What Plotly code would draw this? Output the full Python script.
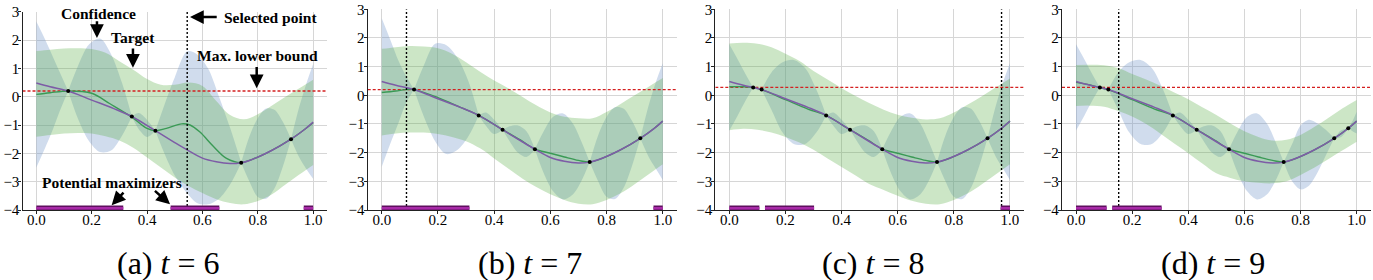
import plotly.graph_objects as go

# ---------------- data ----------------
# true function (purple), identical in all panels
true_x = [0, 0.05, 0.115, 0.2, 0.28, 0.345, 0.43, 0.5, 0.545, 0.6, 0.65, 0.7, 0.74, 0.77, 0.85, 0.92, 0.97, 1.0]
true_y = [0.48, 0.35, 0.2, -0.12, -0.42, -0.7, -1.2, -1.62, -1.88, -2.17, -2.3, -2.36, -2.33, -2.25, -1.9, -1.5, -1.15, -0.9]

# target band (green), common grid
tgt_x = [0, 0.05, 0.1, 0.15, 0.2, 0.25, 0.3, 0.35, 0.4, 0.45, 0.5, 0.55, 0.6, 0.65, 0.7, 0.75, 0.8, 0.85, 0.9, 0.95, 1.0]
tgt_up_a = [1.61, 1.66, 1.7, 1.71, 1.68, 1.55, 1.25, 0.95, 0.62, 0.42, 0.42, 0.5, 0.38, -0.15, -0.65, -0.8, -0.62, -0.32, 0.0, 0.3, 0.6]
tgt_lo_a = [-1.41, -1.35, -1.3, -1.28, -1.3, -1.4, -1.55, -1.8, -2.15, -2.5, -2.85, -3.15, -3.4, -3.62, -3.75, -3.8, -3.68, -3.45, -3.1, -2.75, -2.41]
tgt_up_b = [1.62, 1.68, 1.72, 1.7, 1.64, 1.45, 1.15, 0.82, 0.52, 0.25, -0.05, -0.35, -0.6, -0.75, -0.8, -0.8, -0.58, -0.3, 0.0, 0.3, 0.6]
tgt_lo_b = [-1.4, -1.33, -1.3, -1.3, -1.35, -1.45, -1.6, -1.85, -2.2, -2.55, -2.9, -3.2, -3.45, -3.65, -3.78, -3.8, -3.65, -3.42, -3.1, -2.75, -2.4]
tgt_up_c = [1.81, 1.83, 1.8, 1.68, 1.45, 1.2, 0.85, 0.55, 0.25, -0.02, -0.28, -0.5, -0.68, -0.78, -0.84, -0.8, -0.6, -0.32, -0.03, 0.28, 0.59]
tgt_lo_c = [-1.22, -1.17, -1.2, -1.3, -1.45, -1.65, -1.9, -2.2, -2.5, -2.8, -3.1, -3.3, -3.5, -3.68, -3.78, -3.8, -3.65, -3.42, -3.1, -2.75, -2.4]
tgt_up_d = [1.06, 1.07, 1.05, 0.95, 0.74, 0.55, 0.33, 0.1, -0.14, -0.42, -0.69, -0.98, -1.25, -1.45, -1.58, -1.55, -1.38, -1.1, -0.78, -0.45, -0.16]
tgt_lo_d = [-0.37, -0.36, -0.4, -0.55, -0.74, -1.0, -1.33, -1.68, -2.02, -2.38, -2.72, -2.88, -3.0, -3.05, -3.07, -3.0, -2.78, -2.52, -2.22, -1.92, -1.62]

# confidence band (blue); where upper == lower the band pinches at an observation
conf_x_a = [0, 0.03, 0.06, 0.085, 0.115, 0.15, 0.19, 0.23, 0.27, 0.31, 0.345, 0.37, 0.4, 0.43, 0.46, 0.5, 0.545, 0.58, 0.62, 0.66, 0.7, 0.74, 0.77, 0.8, 0.83, 0.86, 0.89, 0.92, 0.95, 0.975, 1.0]
conf_up_a = [2.65, 2.05, 1.4, 0.85, 0.2, 1.07, 1.84, 2.05, 1.5, 0.47, -0.7, -0.58, -0.82, -1.2, -0.36, 0.68, 1.6, 1.5, 1.0, 0.0, -1.1, -2.33, -1.4, -0.76, -0.42, -0.46, -0.88, -1.5, -0.35, 0.45, 1.15]
conf_lo_a = [-2.5, -1.85, -1.15, -0.5, 0.2, -0.77, -1.56, -1.95, -1.9, -1.37, -0.7, -1.15, -1.42, -1.2, -1.94, -2.78, -3.41, -3.75, -3.8, -3.6, -3.1, -2.33, -3.0, -3.54, -3.6, -3.24, -2.48, -1.5, -2.15, -2.55, -2.9]

conf_x_b = [0, 0.03, 0.06, 0.085, 0.115, 0.15, 0.19, 0.23, 0.27, 0.31, 0.345, 0.37, 0.4, 0.43, 0.455, 0.485, 0.515, 0.545, 0.575, 0.61, 0.645, 0.68, 0.71, 0.74, 0.77, 0.8, 0.83, 0.86, 0.89, 0.92, 0.95, 0.975, 1.0]
conf_up_b = [2.69, 1.95, 1.2, 0.7, 0.2, 1.05, 1.8, 1.75, 1.3, 0.45, -0.7, -0.6, -0.85, -1.2, -1.08, -1.05, -1.25, -1.88, -1.28, -0.75, -0.63, -0.98, -1.6, -2.33, -1.4, -0.76, -0.42, -0.46, -0.88, -1.5, -0.35, 0.45, 1.12]
conf_lo_b = [-2.49, -1.7, -0.95, -0.3, 0.2, -0.75, -1.6, -2.05, -1.9, -1.4, -0.7, -1.05, -1.35, -1.2, -1.6, -2.0, -2.15, -1.88, -2.68, -3.35, -3.63, -3.46, -3.0, -2.33, -3.0, -3.54, -3.62, -3.24, -2.48, -1.5, -2.15, -2.55, -2.95]

conf_x_c = [0, 0.03, 0.06, 0.085, 0.1, 0.115, 0.15, 0.19, 0.23, 0.27, 0.31, 0.345, 0.37, 0.4, 0.43, 0.455, 0.485, 0.515, 0.545, 0.575, 0.61, 0.645, 0.68, 0.71, 0.74, 0.77, 0.8, 0.83, 0.86, 0.89, 0.92, 0.95, 0.975, 1.0]
conf_up_c = [1.78, 1.25, 0.7, 0.27, 0.3, 0.2, 0.8, 1.15, 1.23, 0.95, 0.2, -0.7, -0.6, -0.85, -1.2, -1.08, -1.05, -1.25, -1.88, -1.28, -0.75, -0.63, -0.98, -1.6, -2.33, -1.4, -0.76, -0.42, -0.46, -0.88, -1.5, -0.35, 0.45, 1.12]
conf_lo_c = [-1.23, -0.7, -0.15, 0.27, 0.18, 0.2, -0.5, -1.3, -1.7, -1.7, -1.3, -0.7, -1.05, -1.35, -1.2, -1.6, -2.0, -2.15, -1.88, -2.68, -3.35, -3.63, -3.46, -3.0, -2.33, -3.0, -3.54, -3.62, -3.24, -2.48, -1.5, -2.15, -2.55, -2.95]

conf_x_d = [0, 0.03, 0.06, 0.085, 0.1, 0.115, 0.15, 0.19, 0.23, 0.27, 0.31, 0.345, 0.37, 0.4, 0.43, 0.455, 0.485, 0.515, 0.545, 0.575, 0.61, 0.645, 0.68, 0.71, 0.74, 0.77, 0.8, 0.83, 0.86, 0.89, 0.92, 0.945, 0.97, 0.985, 1.0]
conf_up_d = [1.78, 1.25, 0.7, 0.27, 0.3, 0.2, 0.8, 1.15, 1.23, 0.95, 0.2, -0.7, -0.6, -0.85, -1.2, -1.08, -1.05, -1.25, -1.88, -1.28, -0.75, -0.63, -0.98, -1.6, -2.33, -1.7, -1.05, -0.85, -0.98, -1.2, -1.5, -1.22, -1.15, -0.9, -0.57]
conf_lo_d = [-1.23, -0.7, -0.15, 0.27, 0.18, 0.2, -0.5, -1.3, -1.7, -1.7, -1.3, -0.7, -1.05, -1.35, -1.2, -1.6, -2.0, -2.15, -1.88, -2.68, -3.35, -3.63, -3.46, -3.0, -2.33, -3.0, -3.28, -3.15, -2.7, -2.1, -1.5, -1.45, -1.15, -1.25, -1.33]

# posterior mean (green line)
mean_x_a = [0, 0.05, 0.115, 0.2, 0.266, 0.345, 0.4, 0.43, 0.47, 0.525, 0.555, 0.59, 0.64, 0.687, 0.74, 0.78, 0.83, 0.92, 1.0]
mean_y_a = [0.08, 0.14, 0.2, 0.12, -0.25, -0.72, -1.12, -1.2, -1.12, -0.96, -1.0, -1.24, -1.76, -2.18, -2.33, -2.21, -2.0, -1.5, -0.92]
mean_x_b = [0, 0.05, 0.085, 0.115, 0.2, 0.28, 0.345, 0.43, 0.5, 0.545, 0.6, 0.65, 0.7, 0.74, 0.77, 0.85, 0.92, 0.97, 1.0]
mean_y_b = [0.1, 0.15, 0.2, 0.2, -0.08, -0.42, -0.7, -1.2, -1.6, -1.88, -2.02, -2.15, -2.27, -2.33, -2.25, -1.9, -1.5, -1.15, -0.9]
mean_x_c = mean_x_b
mean_y_c = [0.3, 0.3, 0.27, 0.2, -0.15, -0.48, -0.7, -1.2, -1.6, -1.88, -2.02, -2.15, -2.27, -2.33, -2.25, -1.9, -1.5, -1.15, -0.9]
mean_x_d = mean_x_b
mean_y_d = [0.45, 0.36, 0.27, 0.2, -0.15, -0.48, -0.7, -1.2, -1.6, -1.88, -2.02, -2.15, -2.27, -2.33, -2.25, -1.9, -1.5, -1.15, -0.9]

# observations
obs_x_a = [0.115, 0.345, 0.43, 0.74, 0.92]
obs_y_a = [0.2, -0.7, -1.2, -2.33, -1.5]
obs_x_b = [0.115, 0.345, 0.43, 0.545, 0.74, 0.92]
obs_y_b = [0.2, -0.7, -1.2, -1.88, -2.33, -1.5]
obs_x_c = [0.085, 0.115, 0.345, 0.43, 0.545, 0.74, 0.92]
obs_y_c = [0.27, 0.2, -0.7, -1.2, -1.88, -2.33, -1.5]
obs_x_d = [0.085, 0.115, 0.345, 0.43, 0.545, 0.74, 0.92, 0.97]
obs_y_d = [0.27, 0.2, -0.7, -1.2, -1.88, -2.33, -1.5, -1.15]

max_lower_bound = [0.2, 0.2, 0.28, 0.28]
selected_point = [0.545, 0.088, 0.97, 0.152]
maximizer_intervals = [
    [(0, 0.314), (0.485, 0.661), (0.966, 1.0)],
    [(0, 0.312), (0.967, 1.0)],
    [(0, 0.107), (0.127, 0.302), (0.967, 1.0)],
    [(0, 0.109), (0.129, 0.305)],
]
captions = ["(a) <i>t</i> = 6", "(b) <i>t</i> = 7", "(c) <i>t</i> = 8", "(d) <i>t</i> = 9"]
x_ticks = [0.0, 0.2, 0.4, 0.6, 0.8, 1.0]
y_ticks = [-4, -3, -2, -1, 0, 1, 2, 3]

panels = [
    dict(cx=conf_x_a, cu=conf_up_a, cl=conf_lo_a, tu=tgt_up_a, tl=tgt_lo_a, mx=mean_x_a, my=mean_y_a, ox=obs_x_a, oy=obs_y_a),
    dict(cx=conf_x_b, cu=conf_up_b, cl=conf_lo_b, tu=tgt_up_b, tl=tgt_lo_b, mx=mean_x_b, my=mean_y_b, ox=obs_x_b, oy=obs_y_b),
    dict(cx=conf_x_c, cu=conf_up_c, cl=conf_lo_c, tu=tgt_up_c, tl=tgt_lo_c, mx=mean_x_c, my=mean_y_c, ox=obs_x_c, oy=obs_y_c),
    dict(cx=conf_x_d, cu=conf_up_d, cl=conf_lo_d, tu=tgt_up_d, tl=tgt_lo_d, mx=mean_x_d, my=mean_y_d, ox=obs_x_d, oy=obs_y_d),
]

# ---------------- styling ----------------
W, H = 1373, 280
BLUE_FILL = "rgba(110,145,198,0.32)"
GREEN_FILL = "rgba(85,172,65,0.30)"
GREEN_LINE = "#3a9a55"
PURPLE_LINE = "#7d5ca6"
FONT = "Liberation Serif, Times New Roman, DejaVu Serif, serif"

x_px = [(22.5, 327.0), (367.7, 676.8), (715.3, 1024.0), (1062.0, 1370.7)]
y_px = [(11.7, 210.0), (9.3, 210.0), (9.3, 210.0), (9.3, 210.0)]
cap_x_px = [168, 530, 873, 1213]


def split_at_pinches(xs, up, lo):
    """Split a band into pieces between points where it pinches (upper == lower)."""
    pieces, start = [], 0
    for k in range(1, len(xs)):
        if up[k] == lo[k] or k == len(xs) - 1:
            pieces.append((xs[start:k + 1], up[start:k + 1], lo[start:k + 1]))
            start = k
    return pieces


fig = go.Figure()

for i, p in enumerate(panels):
    xa = "x" if i == 0 else f"x{i+1}"
    ya = "y" if i == 0 else f"y{i+1}"
    common = dict(xaxis=xa, yaxis=ya, showlegend=False, hoverinfo="skip")
    # confidence band, one lens between consecutive pinches
    for sx, su, sl in split_at_pinches(p["cx"], p["cu"], p["cl"]):
        fig.add_trace(go.Scatter(x=sx, y=sl, mode="lines", line=dict(width=0, shape="spline", smoothing=0.9), **common))
        fig.add_trace(go.Scatter(x=sx, y=su, mode="lines", line=dict(width=0, shape="spline", smoothing=0.9),
                                 fill="tonexty", fillcolor=BLUE_FILL, **common))
    # target band
    fig.add_trace(go.Scatter(x=tgt_x, y=p["tl"], mode="lines", line=dict(width=0, shape="spline"), **common))
    fig.add_trace(go.Scatter(x=tgt_x, y=p["tu"], mode="lines", line=dict(width=0, shape="spline"),
                             fill="tonexty", fillcolor=GREEN_FILL, **common))
    # max lower bound
    fig.add_trace(go.Scatter(x=[-0.05, 1.05], y=[max_lower_bound[i]] * 2, mode="lines",
                             line=dict(color="#d42020", width=1.3, dash="3px,2px"), **common))
    # mean and true function
    fig.add_trace(go.Scatter(x=p["mx"], y=p["my"], mode="lines", line=dict(color=GREEN_LINE, width=1.4, shape="spline"), **common))
    fig.add_trace(go.Scatter(x=true_x, y=true_y, mode="lines", line=dict(color=PURPLE_LINE, width=1.5, shape="spline"), **common))
    # observations
    fig.add_trace(go.Scatter(x=p["ox"], y=p["oy"], mode="markers", marker=dict(color="black", size=4), **common))
    # selected point
    fig.add_trace(go.Scatter(x=[selected_point[i]] * 2, y=[-4, 3], mode="lines",
                             line=dict(color="black", width=1.4, dash="2px,2px"), **common))
    # potential maximizers
    bx, by = [], []
    for a, b in maximizer_intervals[i]:
        bx += [a, b, None]
        by += [-3.94, -3.94, None]
    fig.add_trace(go.Scatter(x=bx, y=by, mode="lines", line=dict(color="#5e105e", width=5.5), cliponaxis=False, **common))
    fig.add_trace(go.Scatter(x=bx, y=by, mode="lines", line=dict(color="#a82aa8", width=2.5), cliponaxis=False, **common))

    x0, x1 = x_px[i]
    yt, yb = y_px[i]
    axis_common = dict(showgrid=True, gridcolor="#d6d6d6", gridwidth=1, zeroline=False, showline=True,
                       linecolor="#222222", linewidth=1.3, ticks="outside", ticklen=3, tickcolor="#222222",
                       automargin=False, tickfont=dict(family=FONT, size=15, color="black"))
    fig.update_layout(**{
        ("xaxis" if i == 0 else f"xaxis{i+1}"): dict(domain=[x0 / W, x1 / W], range=[-0.05, 1.05], anchor=ya,
                                                     tickvals=x_ticks, ticktext=[f"{v:.1f}" for v in x_ticks],
                                                     ticklabelstandoff=-7, **axis_common),
        ("yaxis" if i == 0 else f"yaxis{i+1}"): dict(domain=[1 - yb / H, 1 - yt / H], range=[-4, 3], anchor=xa,
                                                     tickvals=y_ticks, ticklabelstandoff=-4, **axis_common),
    })
    fig.add_annotation(text=captions[i], xref="paper", yref="paper", x=cap_x_px[i] / W, y=1 - 263 / H,
                       xanchor="center", yanchor="middle", showarrow=False,
                       font=dict(family=FONT, size=32, color="black"))

# ---------------- annotations in panel (a) ----------------
bold = dict(family=FONT, size=15.5, color="black")
texts = [
    ("Confidence", 0.223, 2.92, "center"),
    ("Target", 0.349, 2.1, "center"),
    ("Selected point", 0.67, 2.81, "left"),
    ("Max. lower bound", 0.799, 1.47, "center"),
    ("Potential maximizers", 0.273, -3.02, "center"),
]
for t, x, y, anc in texts:
    fig.add_annotation(text=f"<b>{t}</b>", x=x, y=y, xref="x", yref="y", xanchor=anc, yanchor="middle",
                       showarrow=False, font=bold)
arrows = [
    ((0.219, 2.72), (0.219, 2.07)),
    ((0.349, 1.75), (0.349, 1.02)),
    ((0.657, 2.81), (0.555, 2.81)),
    ((0.796, 1.1), (0.796, 0.3)),
    ((0.32, -3.33), (0.272, -3.83)),
    ((0.423, -3.28), (0.483, -3.8)),
]
for (tx, ty), (hx, hy) in arrows:
    fig.add_annotation(text="", x=hx, y=hy, ax=tx, ay=ty, xref="x", yref="y", axref="x", ayref="y",
                       showarrow=True, arrowhead=2, arrowsize=1.1, arrowwidth=2.5, arrowcolor="black",
                       standoff=0, startstandoff=0)

fig.update_layout(width=W, height=H, margin=dict(l=0, r=0, t=0, b=0), plot_bgcolor="white",
                  paper_bgcolor="white", font=dict(family=FONT, size=15, color="black"))

fig.write_html("out.html", config={"displayModeBar": False},
               post_script="document.body.style.margin='0px';document.body.style.padding='0px';")
